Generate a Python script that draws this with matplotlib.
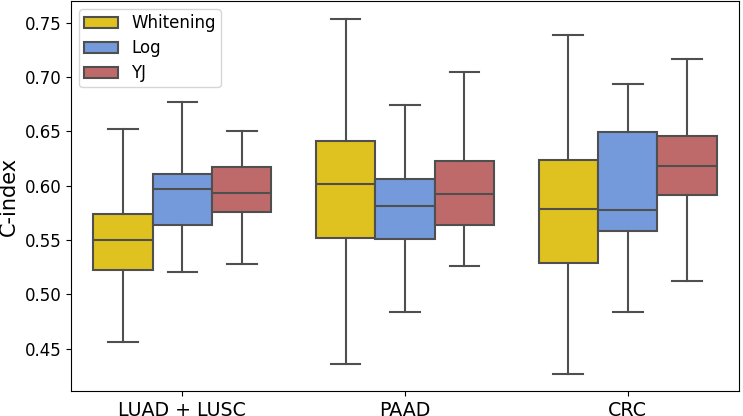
import matplotlib
matplotlib.use("Agg")
import matplotlib.pyplot as plt
import matplotlib.patches as mpatches
import colorsys
from matplotlib.colors import to_rgb

# datasets / methods
cancers = ["LUAD + LUSC", "PAAD", "CRC"]
methods = ["Whitening", "Log", "YJ"]
base_colors = ["gold", "cornflowerblue", "indianred"]

# box stats, rows = cancer, cols = method
whislo = [[0.456, 0.521, 0.528],
          [0.436, 0.484, 0.526],
          [0.427, 0.484, 0.512]]
q1 = [[0.522, 0.564, 0.576],
      [0.552, 0.551, 0.564],
      [0.529, 0.558, 0.591]]
med = [[0.550, 0.597, 0.593],
       [0.602, 0.581, 0.592],
       [0.579, 0.578, 0.618]]
q3 = [[0.574, 0.611, 0.617],
      [0.641, 0.606, 0.623],
      [0.624, 0.649, 0.646]]
whishi = [[0.652, 0.677, 0.650],
          [0.753, 0.674, 0.705],
          [0.739, 0.694, 0.717]]


def desaturate(c, prop=0.75):
    # same as seaborn's saturation=0.75
    h, l, s = colorsys.rgb_to_hls(*to_rgb(c))
    return colorsys.hls_to_rgb(h, l, s * prop)


colors = [desaturate(c) for c in base_colors]
line_col = "#4f4f4f"
width = 0.8 / len(methods)

fig = plt.figure(figsize=(7.43, 4.16), dpi=100)
ax = fig.add_axes([0.0956, 0.060, 0.8990, 0.9376])

for j, m in enumerate(methods):
    stats = []
    pos = []
    for i in range(len(cancers)):
        stats.append(dict(whislo=whislo[i][j], q1=q1[i][j], med=med[i][j],
                          q3=q3[i][j], whishi=whishi[i][j], fliers=[]))
        pos.append(i - 0.4 + width * (j + 0.5))
    ax.bxp(stats, positions=pos, widths=width, patch_artist=True,
           showfliers=False,
           boxprops=dict(facecolor=colors[j], edgecolor=line_col, linewidth=1.5),
           medianprops=dict(color=line_col, linewidth=1.5),
           whiskerprops=dict(color=line_col, linewidth=1.5),
           capprops=dict(color=line_col, linewidth=1.5))

ax.set_xlim(-0.5, 2.5)
ax.set_ylim(0.411, 0.770)
ax.set_xticks(range(len(cancers)))
ax.set_xticklabels(cancers, fontsize=13.7)
ax.set_yticks([0.45, 0.50, 0.55, 0.60, 0.65, 0.70, 0.75])
ax.set_yticklabels(["0.45", "0.50", "0.55", "0.60", "0.65", "0.70", "0.75"], fontsize=12)
ax.set_ylabel("C-index", fontsize=15)

handles = [mpatches.Patch(facecolor=colors[j], edgecolor=line_col, linewidth=1.5, label=m)
           for j, m in enumerate(methods)]
ax.legend(handles=handles, loc="upper left", fontsize=12,
          labelspacing=0.42, borderpad=0.3)

fig.savefig("out.png", dpi=100)
